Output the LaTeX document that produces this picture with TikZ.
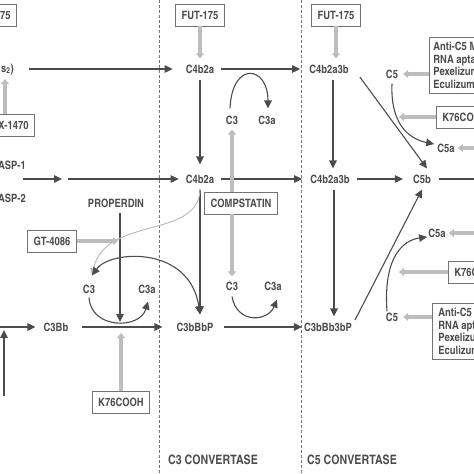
\documentclass[tikz,border=0pt]{standalone}
\usepackage{fontspec}
\setmainfont{texgyreheroscn}[Extension=.otf,UprightFont=*-regular,BoldFont=*-bold]
\usetikzlibrary{arrows.meta}
\definecolor{ink}{gray}{0.3}
\definecolor{pale}{gray}{0.74}
\definecolor{rim}{gray}{0.45}

\begin{document}
\begin{tikzpicture}[x=1pt,y=-1pt,
    >={Triangle[length=8pt,width=7.5pt]},
    txt/.style={text=ink,font=\fontsize{11.5}{12.5}\selectfont\bfseries,inner sep=1pt},
    box/.style={txt,draw=rim,line width=0.8pt,minimum height=22pt,inner xsep=6pt,inner ysep=5pt},
    rxn/.style={draw=ink,line width=1.1pt,->},
    inh/.style={draw=pale,line width=3.5pt,-{Triangle[length=5pt,width=8pt]}},
    split/.style={draw=rim,line width=0.8pt,dash pattern=on 3pt off 2pt}]
  \useasboundingbox (0,0) rectangle (474,474);
  \clip (0,0) rectangle (474,474);

  \draw[split] (159,0) -- (159,474);
  \draw[split] (301,0) -- (301,474);

  % classical side
  \node[box,anchor=east] (futa) at (17,15) {FUT-175};
  \node[txt,anchor=east] (c1) at (15,69) {C1(C1q,C1r\textsubscript{2},C1s\textsubscript{2})};
  \node[box,anchor=east] (bcx) at (35,125) {BCX-1470};
  \node[txt,anchor=east] (masp1) at (27,165) {MASP-1};
  \node[txt,anchor=east] (masp2) at (27,198) {MASP-2};
  \coordinate (c1s) at (5,79);
  \coordinate (ms) at (23,179);
  \coordinate (mj) at (65,179);

  % C3 convertase column
  \node[box] (futb) at (200,15) {FUT-175};
  \node[txt] (c4a) at (200,69) {C4b2a};
  \node[txt] (c4b) at (200,179) {C4b2a};
  \node[txt] (c3p) at (232,120) {C3};
  \node[txt] (c3ap) at (267,120) {C3a};
  \node[box] (comp) at (241,203) {COMPSTATIN};
  \node[txt] (c3q) at (232,286) {C3};
  \node[txt] (c3aq) at (273,286) {C3a};
  \node[txt] (bbp) at (195,327) {C3bBbP};

  % alternative side
  \node[txt] (prop) at (116,203) {PROPERDIN};
  \node[box] (gt) at (52,241) {GT-4086};
  \node[txt] (c3r) at (89,289) {C3};
  \node[txt] (c3ar) at (147,289) {C3a};
  \node[txt] (bb) at (56,327) {C3Bb};
  \node[box] (k76a) at (121,402) {K76COOH};
  \coordinate (pj) at (120,322);
  \coordinate (gj) at (118,241);
  \coordinate (kj) at (121,333);
  \coordinate (lin) at (-6,327);
  \coordinate (lup) at (4,396);
  \coordinate (lupend) at (4,330);

  % C5 convertase column
  \node[box] (futc) at (336,15) {FUT-175};
  \node[txt] (c43a) at (329,69) {C4b2a3b};
  \node[txt] (c43b) at (330,179) {C4b2a3b};
  \node[txt] (bb3) at (328,327) {C3bBb3bP};
  \node[txt] (c5b) at (422,179) {C5b};
  \node[txt] (c5p) at (392,74) {C5};
  \node[txt] (c5ap) at (446,148) {C5a};
  \node[txt] (c5aq) at (437,233) {C5a};
  \node[txt] (c5q) at (392,317) {C5};
  \node[box,anchor=north west,align=left,inner xsep=4pt] (antia) at (429,37) {Anti-C5 MAb\\RNA aptamer\\Pexelizumab\\Eculizumab};
  \node[box,anchor=west] (k76b) at (436,117) {K76COOH};
  \node[box,anchor=west] (k76c) at (448,272) {K76COOH};
  \node[box,anchor=north west,align=left] (antib) at (432,303) {Anti-C5 MAb\\RNA aptamer\\Pexelizumab\\Eculizumab};
  \coordinate (kb) at (399,117);
  \coordinate (kc) at (399,272);
  \coordinate (ea) at (480,148);
  \coordinate (eb) at (480,233);
  \coordinate (out) at (492,179);

  \node[txt,font=\fontsize{13}{15}\selectfont\bfseries] (cv3) at (213,460) {C3 CONVERTASE};
  \node[txt,font=\fontsize{13}{15}\selectfont\bfseries] (cv5) at (352,460) {C5 CONVERTASE};

  % reactions
  \draw[rxn,shorten >=12pt] ([xshift=14pt]c1.east) -- (c4a.west);
  \draw[rxn,shorten <=6pt,shorten >=8pt] (c4a.east) -- (c43a.west);
  \draw[rxn,shorten <=5pt,shorten >=9pt] (c4a.south) -- (c4b.north);
  \draw[rxn,shorten <=5pt,shorten >=5pt] ([xshift=4pt]c43a.south) -- ([xshift=4pt]c43a.south |- c43b.north);
  \draw[rxn,shorten >=3pt] (ms) -- (mj);
  \draw[rxn,shorten <=3pt,shorten >=6pt] (mj) -- (c4b.west);
  \draw[rxn,shorten <=6pt,shorten >=7pt] (c4b.east) -- (c43b.west);
  \draw[rxn,shorten <=6pt,shorten >=9pt] (c43b.east) -- (c5b.west);
  \draw[rxn,shorten <=7pt] (c5b.east) -- (out);
  \draw[rxn] ([shift={(10pt,-8pt)}]c43a.east) -- ([shift={(5pt,5pt)}]c5b.north);
  \draw[rxn] ([shift={(2pt,7pt)}]bb3.east) -- ([yshift=-5pt]c5b.south);
  \draw[rxn,shorten <=5pt,shorten >=5pt] ([xshift=4pt]c43b.south) -- ([xshift=4pt]c43b.south |- bb3.north);
  \draw[rxn,shorten <=5pt,shorten >=7pt] (c4b.south) -- (c4b.south |- bbp.north);
  \draw[rxn,shorten >=7pt] (lin) -- (bb.west);
  \draw[rxn] (lup) -- (lupend);
  \draw[rxn,shorten <=12pt,shorten >=13pt] (bb.east) -- (bbp.west);
  \draw[rxn,shorten <=9pt,shorten >=1pt] (bbp.east) -- (bb3.west);
  \draw[rxn,shorten <=4pt] (prop.south -| pj) -- (pj);

  % cleavage arcs
  \draw[rxn] ([shift={(-2pt,6pt)}]c3p.north) .. controls +(2,-48) and +(0,-43) .. ([shift={(1pt,6pt)}]c3ap.north);
  \draw[rxn] ([yshift=-5pt]c3q.south) .. controls +(5,28) and +(-9,22) .. ([shift={(4pt,-8pt)}]c3aq.south);
  \draw[rxn] ([yshift=-3pt]c3r.south) .. controls +(2,32) and +(-8,28) .. ([shift={(1pt,-7pt)}]c3ar.south);
  \draw[rxn] ([yshift=-4pt]c5p.south) .. controls +(-2,46) and +(-20,-4) .. ([shift={(-2pt,4pt)}]c5ap.west);
  \draw[rxn] ([xshift=-5pt]c5q.north) .. controls +(-4,-56) and +(-23,3) .. ([yshift=-4pt]c5aq.west);
  \draw[draw=pale,line width=1pt,-{Triangle[length=7pt,width=6.5pt]}] ([yshift=-4pt]c4b.south) .. controls (200,240) and (105,215) .. ([shift={(3pt,8pt)}]c3r.north);
  \draw[rxn,<->] ([shift={(3pt,8pt)}]c3r.north) .. controls (110,250) and (190,245) .. ([shift={(5pt,7pt)}]bbp.north);

  % inhibitors
  \draw[inh,shorten >=5pt] (futb) -- (c4a);
  \draw[inh,shorten >=5pt] (futc.south) -- (futc.south |- c43a.north);
  \draw[inh] (bcx.north -| c1s) -- (c1s);
  \draw[inh,shorten >=4pt] (comp.north -| c3p) -- (c3p);
  \draw[inh,shorten >=4pt] (comp.south -| c3q) -- (c3q);
  \draw[inh] (gt.east) -- (gj);
  \draw[inh] (k76a.north) -- (kj);
  \draw[inh,shorten >=4pt] (antia.west |- c5p) -- (c5p.east);
  \draw[inh] (k76b.west) -- (kb);
  \draw[inh,shorten >=2pt] (ea) -- (c5ap.east);
  \draw[inh,shorten >=2pt] (eb) -- (c5aq.east);
  \draw[inh] (k76c.west) -- (kc);
  \draw[inh,shorten >=4pt] (antib.west |- c5q) -- (c5q.east);
\end{tikzpicture}
\end{document}
